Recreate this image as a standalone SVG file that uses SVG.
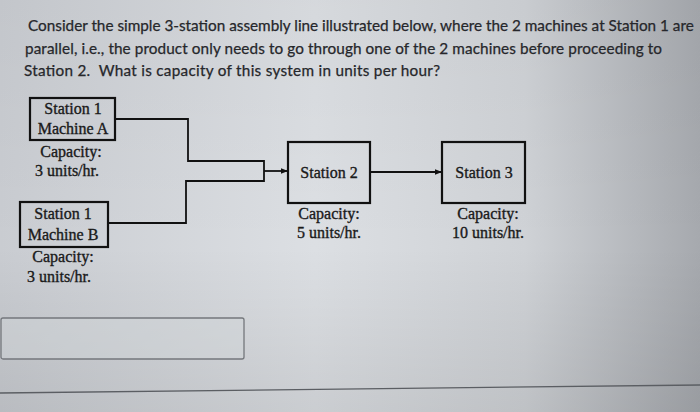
<svg xmlns="http://www.w3.org/2000/svg" width="700" height="412" viewBox="0 0 700 412">
<defs>
<linearGradient id="bg" x1="0" y1="0" x2="1" y2="0">
<stop offset="0" stop-color="#c9ccd1"/>
<stop offset="0.45" stop-color="#dcdfe3"/>
<stop offset="0.75" stop-color="#cfd2d6"/>
<stop offset="1" stop-color="#a6a9ae"/>
</linearGradient>
<linearGradient id="vg" x1="0" y1="0" x2="0" y2="1">
<stop offset="0" stop-color="#000" stop-opacity="0.03"/>
<stop offset="0.6" stop-color="#000" stop-opacity="0"/>
<stop offset="1" stop-color="#000" stop-opacity="0.08"/>
</linearGradient>
<marker id="arr" viewBox="0 0 10 10" refX="10" refY="5" markerWidth="7" markerHeight="7" orient="auto" markerUnits="userSpaceOnUse">
<path d="M0,1 L10,5 L0,9 z" fill="#111"/>
</marker>
<style>
.q{font-family:Lato,"Open Sans",sans-serif;font-size:15.3px;fill:#26272b;stroke:#26272b;stroke-width:0.25;white-space:pre}
.t{font-family:"Liberation Serif","Times New Roman",serif;font-size:16px;fill:#1a1a1a;stroke:#1a1a1a;stroke-width:0.35;text-anchor:middle}
.box{fill:none;stroke:#111;stroke-width:2.2}
.ln{fill:none;stroke:#111;stroke-width:1.8}
</style>
</defs>
<rect width="700" height="412" fill="url(#bg)"/>
<rect width="700" height="412" fill="url(#vg)"/>
<g id="question">
<text class="q" x="28" y="31">Consider the simple 3-station assembly line illustrated below, where the 2 machines at Station 1 are</text>
<text class="q" x="25" y="54" textLength="637" lengthAdjust="spacing">parallel, i.e., the product only needs to go through one of the 2 machines before proceeding to</text>
<text class="q" x="24" y="76" textLength="416" lengthAdjust="spacing">Station 2.  What is capacity of this system in units per hour?</text>
</g>
<g id="machineA">
<rect class="box" x="30" y="98" width="85" height="42"/>
<text class="t" x="73" y="114">Station 1</text>
<text class="t" x="73" y="134">Machine A</text>
<text class="t" x="71" y="157">Capacity:</text>
<text class="t" x="67" y="176">3 units/hr.</text>
</g>
<g id="machineB">
<rect class="box" x="20" y="202" width="88" height="45"/>
<text class="t" x="63" y="219">Station 1</text>
<text class="t" x="63" y="240">Machine B</text>
<text class="t" x="63" y="262">Capacity:</text>
<text class="t" x="59" y="282">3 units/hr.</text>
</g>
<g id="station2">
<rect class="box" x="288" y="142" width="82" height="61"/>
<text class="t" x="329" y="178">Station 2</text>
<text class="t" x="329" y="219">Capacity:</text>
<text class="t" x="329" y="238">5 units/hr.</text>
</g>
<g id="station3">
<rect class="box" x="442" y="142" width="83" height="61"/>
<text class="t" x="484" y="178">Station 3</text>
<text class="t" x="488" y="219">Capacity:</text>
<text class="t" x="488" y="238">10 units/hr.</text>
</g>
<g id="connectors">
<polyline class="ln" points="115,119 188,119 188,161 264,161 264,181 186,181 186,223 108,223"/>
<line class="ln" x1="264" y1="171" x2="288" y2="171" marker-end="url(#arr)"/>
<line class="ln" x1="370" y1="172" x2="442" y2="172" marker-end="url(#arr)"/>
</g>
<g id="answer">
<rect x="1" y="318" width="243" height="41" rx="2" fill="#d3d6da" fill-opacity="0.4" stroke="#74777c" stroke-width="1.3"/>
<line x1="0" y1="393" x2="700" y2="385" stroke="#5b5e63" stroke-width="1.3"/>
</g>
</svg>
